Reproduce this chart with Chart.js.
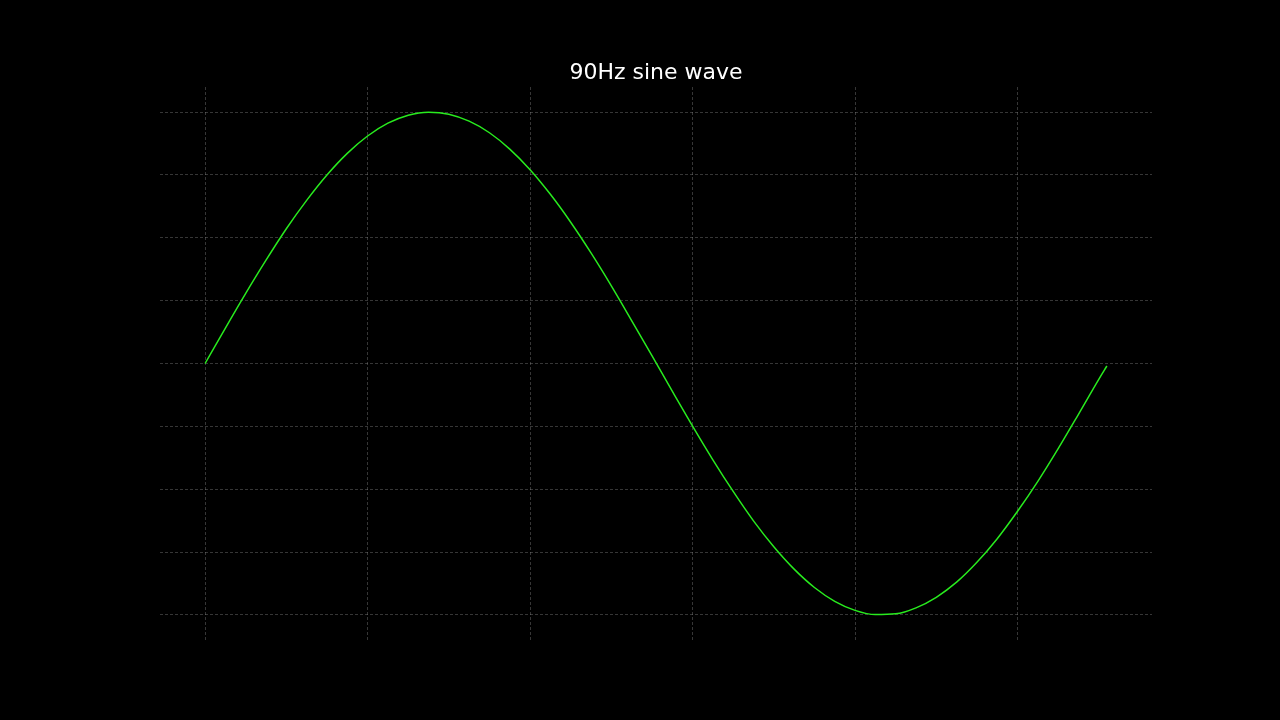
<!DOCTYPE html>
<html>
<head>
<meta charset="utf-8">
<title>90Hz sine wave</title>
<script src="https://cdn.jsdelivr.net/npm/chart.js@4.4.1/dist/chart.umd.min.js"></script>
<style>
    html, body { margin: 0; padding: 0; background: #000; }
    #wrap { width: 1280px; height: 720px; }
</style>
</head>
<body>
<div id="wrap"><canvas id="waveChart" width="1280" height="720"></canvas></div>
<script>
// temps (s) et amplitude, un point toutes les 0.25 ms
const times = [0, 0.00025, 0.0005, 0.00075, 0.001, 0.00125, 0.0015, 0.00175, 0.002, 0.00225,
    0.0025, 0.00275, 0.003, 0.00325, 0.0035, 0.00375, 0.004, 0.00425, 0.0045, 0.00475,
    0.005, 0.00525, 0.0055, 0.00575, 0.006, 0.00625, 0.0065, 0.00675, 0.007, 0.00725,
    0.0075, 0.00775, 0.008, 0.00825, 0.0085, 0.00875, 0.009, 0.00925, 0.0095, 0.00975,
    0.010, 0.01025, 0.0105, 0.01075, 0.011, 0.0111];
const amplitude = [0, 0.141, 0.279, 0.411, 0.536, 0.649, 0.750, 0.836, 0.905, 0.956,
    0.988, 1.0, 0.992, 0.964, 0.918, 0.853, 0.771, 0.673, 0.562, 0.440,
    0.309, 0.171, 0.031, -0.110, -0.249, -0.383, -0.509, -0.626, -0.729, -0.818,
    -0.891, -0.946, -0.982, -0.999, -0.996, -0.972, -0.930, -0.870, -0.791, -0.697,
    -0.588, -0.469, -0.339, -0.202, -0.063, -0.01];

// positions des lignes de grille
const xTicks = [0, 0.002, 0.004, 0.006, 0.008, 0.010];
const yTicks = [-1, -0.75, -0.5, -0.25, 0, 0.25, 0.5, 0.75, 1];

const points = times.map((t, i) => ({x: t, y: amplitude[i]}));

const gridColor = 'rgba(150, 150, 150, 0.45)';

let ctx = document.getElementById('waveChart').getContext('2d');
let waveChart = new Chart(ctx, {
    type: 'line',
    data: {
        datasets: [{
            data: points,
            borderColor: 'rgb(40, 235, 30)',
            borderWidth: 1.5,
            pointRadius: 0,
            fill: false,
            cubicInterpolationMode: 'monotone'
        }]
    },
    options: {
        responsive: false,
        animation: false,
        events: [],
        layout: {
            padding: {left: 160, right: 128, top: 0, bottom: 80}
        },
        plugins: {
            legend: {display: false},
            tooltip: {enabled: false},
            title: {
                display: true,
                text: '90Hz sine wave',
                color: '#ffffff',
                font: {family: 'DejaVu Sans', size: 22, weight: 'normal'},
                padding: {top: 60, bottom: 0.6}
            }
        },
        scales: {
            x: {
                type: 'linear',
                min: -0.000555,
                max: 0.011655,
                afterBuildTicks: axis => { axis.ticks = xTicks.map(v => ({value: v})); },
                ticks: {display: false},
                grid: {color: gridColor, lineWidth: 0.8, drawTicks: false},
                border: {display: false, dash: [3, 2]}
            },
            y: {
                type: 'linear',
                min: -1.1,
                max: 1.1,
                afterBuildTicks: axis => { axis.ticks = yTicks.map(v => ({value: v})); },
                ticks: {display: false},
                grid: {color: gridColor, lineWidth: 0.8, drawTicks: false},
                border: {display: false, dash: [3, 2]}
            }
        }
    }
});
</script>
</body>
</html>
